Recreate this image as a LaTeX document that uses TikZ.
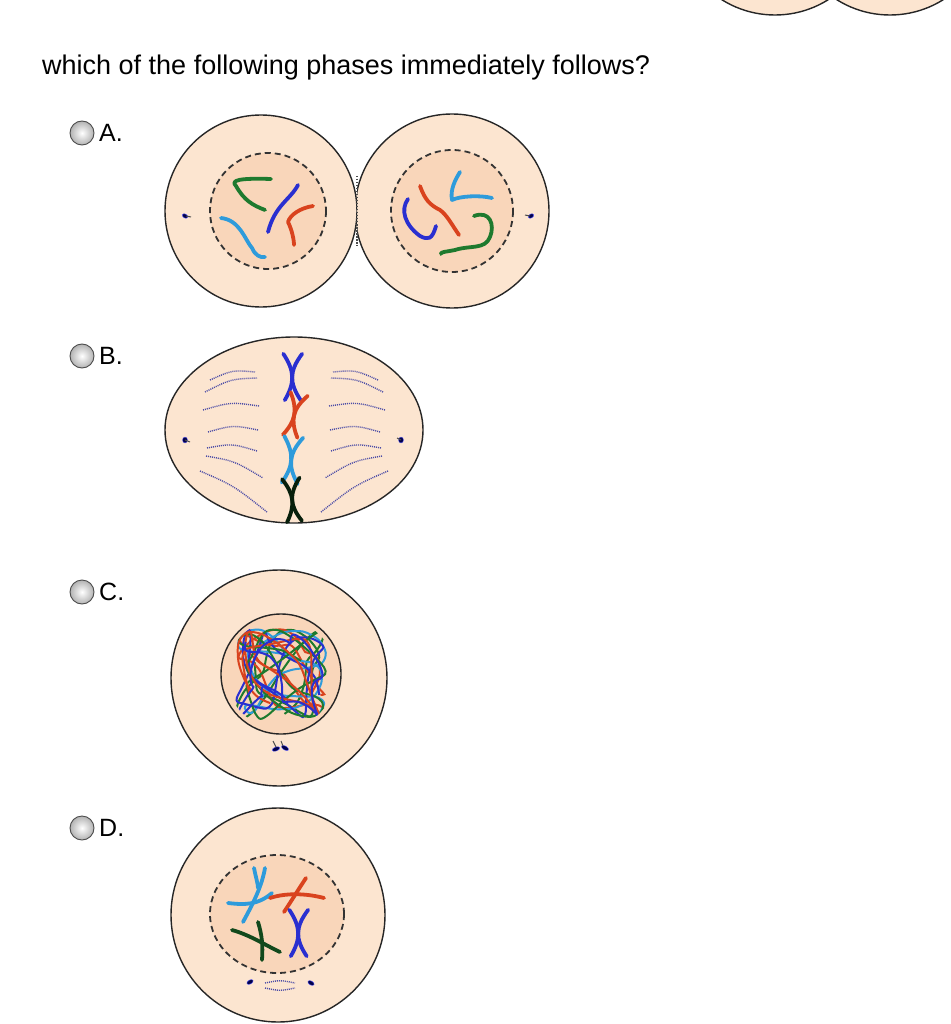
\documentclass[tikz,border=0pt]{standalone}
\usepackage{fontspec}
\setmainfont{Liberation Sans}
\begin{document}
\begin{tikzpicture}[x=1pt,y=-1pt,
  cell/.style={draw=black!85,line width=1.4pt,fill=cellfill},
  nuc/.style={draw=black!80,line width=1.8pt,dash pattern=on 6pt off 4pt,fill=nucfill},
  chrom/.style={line width=3.8pt,line cap=round,line join=round},
  fib/.style={draw=black!50!blue!70,line width=1.4pt,dash pattern=on 1pt off 1pt},
  radio/.style={circle,draw=black!70,line width=0.9pt,inner color=white,outer color=black!30,minimum size=24pt,inner sep=0pt},
  lab/.style={anchor=west,font=\fontsize{25}{28}\selectfont,inner sep=0pt},
  cent/.style={fill=black!70!blue,draw=blue!60,line width=0.4pt}]
\definecolor{cellfill}{HTML}{FCE5D0}
\definecolor{nucfill}{HTML}{F9D6BA}
\definecolor{cgreen}{HTML}{1E7A2E}
\definecolor{cblue}{HTML}{2A2FD0}
\definecolor{clblue}{HTML}{2E9BDB}
\definecolor{cred}{HTML}{D9431E}
\useasboundingbox (0,0) rectangle (950,1024);
\fill[white] (0,0) rectangle (950,1024);
% top-right partial cells
\begin{scope}
\clip (0,0) rectangle (950,30);
\draw[cell] (775,-85) circle (100);
\draw[cell] (890,-85) circle (100);
\end{scope}
\node[anchor=west,inner sep=0pt,font=\fontsize{27}{30}\selectfont] (q) at (42,68) {which of the following phases immediately follows?};
% radio buttons
\node[radio] (ra) at (82,133) {}; \node[lab] (la) at (99,133) {A.};
\node[radio] (rb) at (82,356) {}; \node[lab] (lb) at (99,356) {B.};
\node[radio] (rc) at (82,592) {}; \node[lab] (lc) at (99,592) {C.};
\node[radio] (rd) at (82,828) {}; \node[lab] (ld) at (99,828) {D.};
% ---- A: telophase
\fill[cellfill] (261,211) circle (96) (452,211) circle (97);
\begin{scope}
\clip (0,0) rectangle (357,320);
\draw[cell,fill=none] (261,211) circle (96);
\end{scope}
\begin{scope}
\clip (357,0) rectangle (600,320);
\draw[cell,fill=none] (452,211) circle (97);
\end{scope}
\draw[black!70,line width=1.2pt,dash pattern=on 1.5pt off 1.5pt] (357,176) -- (357,246);
\draw[nuc] (268,211) circle (58);
\draw[nuc] (452,211) circle (61);
\draw[chrom,cgreen] (271,179) .. controls (240,178) and (230,180) .. (236,186) .. controls (244,200) and (252,205) .. (265,210);
\draw[chrom,cblue] (298,185) .. controls (290,200) and (275,205) .. (268,232);
\draw[chrom,clblue] (221,218) .. controls (240,220) and (245,240) .. (252,248) .. controls (255,255) and (260,258) .. (265,257);
\draw[chrom,cred] (313,206) .. controls (300,208) and (290,215) .. (288,222) .. controls (292,230) and (294,240) .. (294,245);
\draw[chrom,clblue] (460,172) .. controls (455,180) and (450,190) .. (452,200) .. controls (460,196) and (480,195) .. (492,198);
\draw[chrom,cred] (420,186) .. controls (425,200) and (430,205) .. (440,210) .. controls (447,215) and (452,225) .. (459,235);
\draw[chrom,cblue] (408,199) .. controls (400,210) and (405,225) .. (420,236) .. controls (428,240) and (432,240) .. (436,226);
\draw[chrom,cgreen] (474,216) .. controls (490,210) and (495,225) .. (490,237) .. controls (485,250) and (470,245) .. (455,250) .. controls (445,252) and (440,252) .. (441,254);
\fill[cent,rotate around={-30:(185,216)}] (185,216) ellipse (3 and 2);
\draw[black!70,line width=1pt] (186,216) -- (191,217);
\fill[cent,rotate around={30:(531,216)}] (531,216) ellipse (3 and 2);
\draw[black!70,line width=1pt] (530,216) -- (525,215);
% ---- B: metaphase
\draw[cell] (294,430) ellipse (129 and 93);
\foreach \a/\b/\c/\d in {205/392/257/378, 203/410/259/406, 208/432/258/430, 207/448/257/451, 206/456/263/478, 200/471/267/512, 210/380/255/372} {
  \draw[fib] (\a,\b) .. controls ({(\a+\c)/2},{(\b+\d)/2-6}) .. (\c,\d);
  \draw[fib] ({588-\a},\b) .. controls ({588-(\a+\c)/2},{(\b+\d)/2-6}) .. ({588-\c},\d);
}
\newcommand\chromx[5]{%
  \begin{scope}[shift={(#1,#2)},rotate=#3,scale=#5]
  \draw[chrom,#4] (-6,-16) .. controls (2,-4) and (2,4) .. (-5,16);
  \draw[chrom,#4] (7,-16) .. controls (-2,-4) and (-2,4) .. (6,16);
  \end{scope}}
\chromx{292}{377}{0}{cblue}{1.45}
\chromx{294}{415}{-12}{cred}{1.35}
\chromx{291}{460}{-5}{clblue}{1.45}
\chromx{292}{500}{5}{black!75!cgreen}{1.35}
\fill[cent] (185,440) ellipse (2.5 and 3);
\draw[black!70,line width=1pt] (185,440) -- (190,442);
\fill[cent] (401,440) ellipse (2.5 and 3);
\draw[black!70,line width=1pt] (401,440) -- (397,438);
% ---- C
\draw[cell] (279,678) circle (108);
\draw[cell,fill=nucfill] (281,674) circle (60);
\begin{scope}
\clip (281,674) circle (55);
\foreach \col/\p/\q/\m/\n in {cgreen/0/30/3/4, cred/40/70/4/3, clblue/80/10/5/3, cblue/120/50/3/5, cgreen/160/100/5/4, cred/200/20/4/5, cblue/300/200/2/3} {
  \draw[\col,line width=2pt,smooth] plot[domain=0:200,samples=45]
   ({281+38*sin(\m*\x+\p)+7*sin(11*\x+\q)},{674+38*cos(\n*\x+\q)+7*cos(13*\x+\p)});
}
\end{scope}
\fill[cent,rotate around={20:(276,749)}] (276,749) ellipse (4 and 2);
\fill[cent,rotate around={-30:(285,748)}] (285,748) ellipse (4 and 2);
\draw[black!70,line width=1pt] (276,747) -- (273,741) (283,746) -- (281,741);
% ---- D
\draw[cell] (278,915) circle (107);
\draw[nuc] (277,914) ellipse (67 and 59);
\draw[chrom,clblue] (265,868) .. controls (262,885) and (255,900) .. (243,922);
\draw[chrom,clblue] (228,903) .. controls (245,905) and (258,905) .. (272,893);
\draw[chrom,clblue] (254,868) .. controls (256,878) and (258,884) .. (258,888);
\draw[chrom,cred] (270,898) .. controls (285,893) and (305,893) .. (324,898);
\draw[chrom,cred] (306,878) .. controls (298,890) and (292,900) .. (284,912);
\draw[chrom,cgreen!60!black] (232,930) .. controls (250,935) and (265,945) .. (280,952);
\draw[chrom,cgreen!60!black] (258,922) .. controls (262,935) and (263,945) .. (262,960);
\chromx{298}{933}{0}{cblue}{1.45}
\fill[cent,rotate around={30:(250,982)}] (250,982) ellipse (3.5 and 2);
\fill[cent,rotate around={-30:(311,983)}] (311,983) ellipse (3.5 and 2);
\draw[fib] (265,983) .. controls (280,980) .. (295,983);
\draw[fib] (265,988) .. controls (280,991) .. (295,988);
\end{tikzpicture}
\end{document}
